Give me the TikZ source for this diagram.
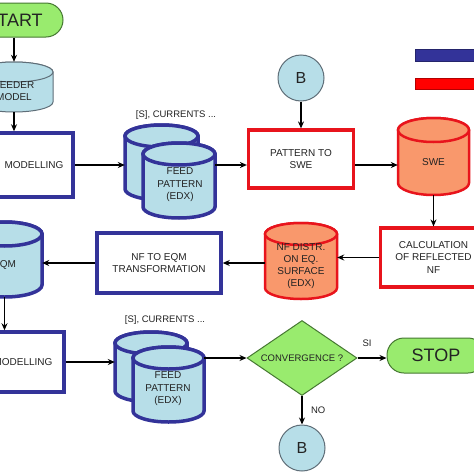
\documentclass[tikz,border=0pt]{standalone}
\usepackage{fontspec}
\setmainfont{Liberation Sans}
\usetikzlibrary{shapes.geometric,arrows.meta}
\definecolor{navy}{RGB}{51,51,153}
\definecolor{lblue}{RGB}{183,222,232}
\definecolor{myred}{RGB}{232,20,28}
\definecolor{orng}{RGB}{249,152,108}
\definecolor{lgreen}{RGB}{153,235,110}
\definecolor{dgreen}{RGB}{70,120,50}
\definecolor{cgray}{RGB}{95,110,120}
\definecolor{txt}{RGB}{35,35,35}
\newcommand{\drawcyl}[6]{%
  \pgfmathsetmacro\cx{(#3+#4)/2}\pgfmathsetmacro\rx{(#4-#3)/2}%
  \pgfmathsetmacro\cy{(#5+#6)/2}\pgfmathsetmacro\hh{#6-#5}\pgfmathsetmacro\ww{#4-#3}%
  \path[#1] (#3,-#5-\cylry) -- (#3,-#6+\cylry) arc[start angle=180,end angle=360,x radius=\rx pt,y radius=\cylry pt] -- (#4,-#5-\cylry) arc[start angle=0,end angle=180,x radius=\rx pt,y radius=\cylry pt] -- cycle;
  \path[#1] (\cx,-#5-\cylry) ellipse[x radius=\rx pt,y radius=\cylry pt];
  \node[inner sep=0pt,minimum width=\ww pt,minimum height=\hh pt] (#2) at (\cx,-\cy) {};
}
\tikzset{
  txtst/.style={font=\fontsize{10}{12.5}\selectfont, text=txt, align=center, inner sep=1pt},
  bluebox/.style={draw=navy, line width=3.5pt, fill=white, inner sep=0pt, txtst},
  redbox/.style={draw=myred, line width=3.2pt, fill=white, inner sep=0pt, txtst},
  pill/.style={draw=dgreen, fill=lgreen, line width=1pt, rounded corners=17pt, inner sep=0pt, text=txt, font=\fontsize{18}{20}\selectfont},
  bcirc/.style={circle, draw=cgray, fill=lblue, line width=1pt, minimum size=46pt, inner sep=0pt, text=txt, font=\fontsize{16}{18}\selectfont},
  graycyl/.style={fill=lblue, draw=cgray, line width=1pt},
  bluecyl/.style={fill=lblue, draw=navy, line width=3.5pt},
  orcyl/.style={fill=orng, draw=myred, line width=2.5pt},
  lbl/.style={font=\fontsize{9.5}{11}\selectfont, text=txt},
  arr/.style={-{Stealth[length=7pt,width=6pt]}, line width=1.6pt, black},
}
\begin{document}
\begin{tikzpicture}[x=1pt,y=1pt]
\useasboundingbox (0,0) rectangle (474,-474);
\fill[white] (0,0) rectangle (474,-474);
\clip (0,0) rectangle (474,-474);

% legend bars
\draw[fill=navy, draw=navy!70!black, line width=0.6pt] (415,-49) rectangle (480,-61);
\draw[fill=red, draw=red!70!black, line width=0.6pt] (415,-78) rectangle (480,-89);

% start
\node[pill, minimum width=98pt, minimum height=34pt] (start) at (14,-20) {START};

% feeder model
\def\cylry{10}
\drawcyl{graycyl}{feeder}{-25}{53}{62}{112}
\node[txtst] (feedert) at (14,-91) {FEEDER\\MODEL};

% modelling 1
\node[bluebox, minimum width=78pt, minimum height=64pt] (mod1) at (34,-165) {MODELLING};

% feed pattern 1
\def\cylry{11}
\drawcyl{bluecyl}{fb1}{125}{198}{125}{200}
\drawcyl{bluecyl}{ff1}{143}{215}{143}{218}
\node[txtst] (ff1t) at (180,-185) {FEED\\PATTERN\\(EDX)};
\node[lbl] (cur1) at (176,-115) {[S], CURRENTS ...};

% B top
\node[bcirc] (b1) at (301,-78) {B};

% pattern to swe
\node[redbox, minimum width=105pt, minimum height=58pt] (pattern) at (301,-159) {PATTERN TO\\SWE};

% swe
\def\cylry{12}
\drawcyl{orcyl}{swe}{398}{469}{118}{195}
\node[txtst] (swet) at (433.5,-162) {SWE};

% calculation
\node[redbox, minimum width=106pt, minimum height=59pt] (calc) at (433.5,-257.5) {CALCULATION\\OF REFLECTED\\NF};

% nf distr
\def\cylry{11}
\drawcyl{orcyl}{nfd}{265}{337}{223}{299}
\node[txtst, font=\fontsize{10}{11.8}\selectfont] (nfdt) at (301,-266) {NF DISTR.\\ON EQ.\\SURFACE\\(EDX)};

% nf to eqm
\node[bluebox, minimum width=124pt, minimum height=60pt] (nf2eqm) at (159,-263) {NF TO EQM\\TRANSFORMATION};

% eqm
\def\cylry{12}
\drawcyl{bluecyl}{eqm}{-33}{42}{222}{297}
\node[txtst] (eqmt) at (4.5,-265) {EQM};

% modelling 2
\node[bluebox, minimum width=82pt, minimum height=60pt] (mod2) at (23,-362) {MODELLING};

% feed pattern 2
\def\cylry{11}
\drawcyl{bluecyl}{fb2}{115}{187}{332}{402}
\drawcyl{bluecyl}{ff2}{133}{204}{347}{422}
\node[txtst] (ff2t) at (168,-389) {FEED\\PATTERN\\(EDX)};
\node[lbl] (cur2) at (165,-320) {[S], CURRENTS ...};

% convergence
\node[diamond, draw=dgreen, fill=lgreen, line width=1pt, minimum width=110pt, minimum height=75pt, aspect=1.47, inner sep=0pt, text=txt, font=\fontsize{9.5}{11}\selectfont] (dia) at (302,-358) {CONVERGENCE ?};

% stop
\node[pill, minimum width=98pt, minimum height=35pt] (stop) at (436,-355.5) {STOP};

% B bottom
\node[bcirc] (b2) at (302,-448) {B};

% connectors
\draw[arr] (start) -- (feeder);
\draw[arr] (feeder.south) -- (mod1.north -| feeder.south);
\draw[arr] (mod1.east) -- (mod1.east -| fb1.west);
\draw[arr] (ff1.east |- mod1.east) -- (pattern.west |- mod1.east);
\draw[arr] (b1) -- (pattern);
\draw[arr] (pattern.east |- mod1.east) -- (swe.west |- mod1.east);
\draw[arr] (swe.south) -- (calc.north);
\draw[arr] (calc.west) -- (calc.west -| nfd.east);
\draw[arr] (nfd.west |- nf2eqm.east) -- (nf2eqm.east);
\draw[arr] (nf2eqm.west) -- (nf2eqm.west -| eqm.east);
\draw[arr] (eqm.south) -- (eqm.south |- mod2.north);
\draw[arr] (mod2.east) -- (mod2.east -| fb2.west);
\draw[arr] (ff2.east |- dia.west) -- (dia.west);
\draw[arr] (dia.east) -- (stop.west |- dia.east) node[lbl, pos=0.33, above=7pt] (si) {SI};
\draw[arr] (dia.south) -- (b2.north) node[lbl, midway, right=5pt] (no) {NO};
\end{tikzpicture}
\end{document}
